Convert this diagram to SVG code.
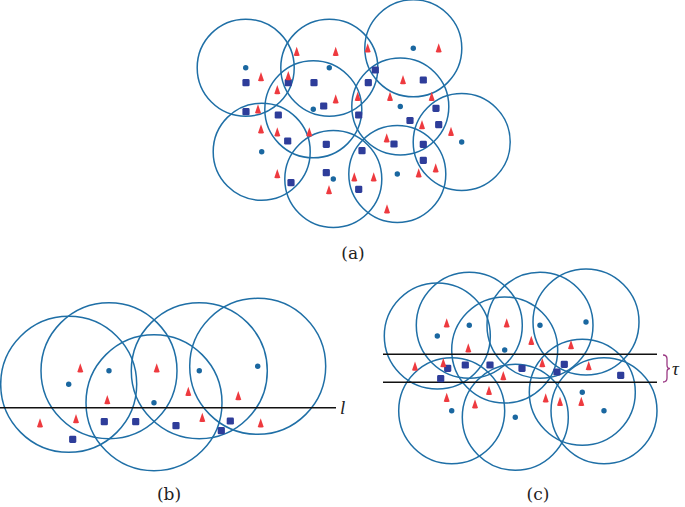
<svg xmlns="http://www.w3.org/2000/svg" xmlns:xlink="http://www.w3.org/1999/xlink" width="685" height="507" viewBox="0 0 685 507">
<style>
.c{fill:none;stroke:#1f6fa6;stroke-width:1.5}
.ln{stroke:#111;stroke-width:1.6}
.lab{font-family:"DejaVu Serif","Liberation Serif",serif;font-size:17px;fill:#222;text-anchor:middle}
.it{font-family:"Liberation Serif","DejaVu Serif",serif;font-style:italic;font-size:19px;fill:#222}
</style>
<defs>
<path id="t" d="M0,-5 L3,3.8 Q0,4.8 -3,3.8 Z" fill="#ee3a3f"/>
<rect id="s" x="-3.6" y="-3.6" width="7.2" height="7.2" rx="1.3" fill="#2e3d9a"/>
<circle id="d" r="2.7" fill="#1a67a0"/>
</defs>
<rect width="685" height="507" fill="#fff"/>

<g id="panel-a">
<g class="circles">
<circle class="c" cx="245.7" cy="67.7" r="48.5"/>
<circle class="c" cx="329.3" cy="67.7" r="48.5"/>
<circle class="c" cx="413.3" cy="48.3" r="48.5"/>
<circle class="c" cx="313.3" cy="109.3" r="48.5"/>
<circle class="c" cx="400.3" cy="106.5" r="48.5"/>
<circle class="c" cx="461.7" cy="142" r="48.5"/>
<circle class="c" cx="261.7" cy="151.7" r="48.5"/>
<circle class="c" cx="333.3" cy="179" r="48.5"/>
<circle class="c" cx="397.3" cy="174" r="48.5"/>
</g>
<g class="dots">
<use xlink:href="#d" x="245.7" y="67.7"/>
<use xlink:href="#d" x="329.3" y="67.7"/>
<use xlink:href="#d" x="413.3" y="48.3"/>
<use xlink:href="#d" x="313.3" y="109.3"/>
<use xlink:href="#d" x="400.3" y="106.5"/>
<use xlink:href="#d" x="461.7" y="142"/>
<use xlink:href="#d" x="261.7" y="151.7"/>
<use xlink:href="#d" x="333.3" y="179"/>
<use xlink:href="#d" x="397.3" y="174"/>
</g>
<g class="squares">
<use xlink:href="#s" x="246" y="82.7"/>
<use xlink:href="#s" x="288.3" y="82.7"/>
<use xlink:href="#s" x="314" y="82.7"/>
<use xlink:href="#s" x="323.7" y="106"/>
<use xlink:href="#s" x="246" y="111.7"/>
<use xlink:href="#s" x="278.3" y="115"/>
<use xlink:href="#s" x="375.3" y="70"/>
<use xlink:href="#s" x="368.3" y="82.7"/>
<use xlink:href="#s" x="423.3" y="80"/>
<use xlink:href="#s" x="436" y="108.3"/>
<use xlink:href="#s" x="358.7" y="115"/>
<use xlink:href="#s" x="410" y="120.5"/>
<use xlink:href="#s" x="287.7" y="141"/>
<use xlink:href="#s" x="326.3" y="144.3"/>
<use xlink:href="#s" x="291" y="182.7"/>
<use xlink:href="#s" x="326.3" y="172.7"/>
<use xlink:href="#s" x="438.7" y="124.7"/>
<use xlink:href="#s" x="394" y="144"/>
<use xlink:href="#s" x="423.3" y="144.3"/>
<use xlink:href="#s" x="362" y="150.7"/>
<use xlink:href="#s" x="423.3" y="160.3"/>
<use xlink:href="#s" x="358.7" y="189.3"/>
</g>
<g class="triangles">
<use xlink:href="#t" x="261" y="77"/>
<use xlink:href="#t" x="296.7" y="51.7"/>
<use xlink:href="#t" x="335.7" y="51.7"/>
<use xlink:href="#t" x="288.3" y="76"/>
<use xlink:href="#t" x="277.3" y="90"/>
<use xlink:href="#t" x="335.7" y="99.3"/>
<use xlink:href="#t" x="258" y="109.3"/>
<use xlink:href="#t" x="367.7" y="48.3"/>
<use xlink:href="#t" x="438.7" y="48.3"/>
<use xlink:href="#t" x="403" y="80"/>
<use xlink:href="#t" x="357.7" y="96.7"/>
<use xlink:href="#t" x="390" y="96.7"/>
<use xlink:href="#t" x="431.7" y="96.7"/>
<use xlink:href="#t" x="261" y="129.3"/>
<use xlink:href="#t" x="277.3" y="132.3"/>
<use xlink:href="#t" x="309.3" y="132.3"/>
<use xlink:href="#t" x="277.3" y="174"/>
<use xlink:href="#t" x="329" y="190"/>
<use xlink:href="#t" x="422" y="125"/>
<use xlink:href="#t" x="451" y="131.7"/>
<use xlink:href="#t" x="386.7" y="138.3"/>
<use xlink:href="#t" x="435.7" y="168.3"/>
<use xlink:href="#t" x="354.3" y="177.3"/>
<use xlink:href="#t" x="373.7" y="177.3"/>
<use xlink:href="#t" x="418.7" y="173.3"/>
<use xlink:href="#t" x="387" y="209.3"/>
</g>
<text class="lab" x="353" y="259">(a)</text>
</g>

<g id="panel-b">
<g class="circles">
<circle class="c" cx="68.7" cy="384.3" r="68"/>
<circle class="c" cx="109" cy="370.7" r="68"/>
<circle class="c" cx="154" cy="402.7" r="68"/>
<circle class="c" cx="199.3" cy="370.7" r="68"/>
<circle class="c" cx="257.7" cy="366.3" r="68"/>
</g>
<line class="ln" x1="0" y1="407.7" x2="336" y2="407.7"/>
<g class="dots">
<use xlink:href="#d" x="68.7" y="384.3"/>
<use xlink:href="#d" x="109" y="370.7"/>
<use xlink:href="#d" x="154" y="402.7"/>
<use xlink:href="#d" x="199.3" y="370.7"/>
<use xlink:href="#d" x="257.7" y="366.3"/>
</g>
<g class="squares">
<use xlink:href="#s" x="104.3" y="421.7"/>
<use xlink:href="#s" x="135.7" y="421.7"/>
<use xlink:href="#s" x="176" y="425.7"/>
<use xlink:href="#s" x="72.7" y="439.3"/>
<use xlink:href="#s" x="230.3" y="421"/>
<use xlink:href="#s" x="221.3" y="430.7"/>
</g>
<g class="triangles">
<use xlink:href="#t" x="80.3" y="368.3"/>
<use xlink:href="#t" x="107.3" y="400"/>
<use xlink:href="#t" x="156.7" y="368.3"/>
<use xlink:href="#t" x="40" y="423.3"/>
<use xlink:href="#t" x="76" y="419"/>
<use xlink:href="#t" x="188.3" y="391.7"/>
<use xlink:href="#t" x="238.3" y="396"/>
<use xlink:href="#t" x="202.3" y="417.7"/>
<use xlink:href="#t" x="260.7" y="423.3"/>
</g>
<text class="it" x="340" y="414">l</text>
<text class="lab" x="169" y="500">(b)</text>
</g>

<g id="panel-c">
<g class="circles">
<circle class="c" cx="437.3" cy="336" r="53"/>
<circle class="c" cx="469.3" cy="325.3" r="53"/>
<circle class="c" cx="504.7" cy="350" r="53"/>
<circle class="c" cx="540" cy="325.3" r="53"/>
<circle class="c" cx="586" cy="322" r="53"/>
<circle class="c" cx="451.7" cy="410.7" r="53"/>
<circle class="c" cx="515.3" cy="417.3" r="53"/>
<circle class="c" cx="582.3" cy="392.3" r="53"/>
<circle class="c" cx="604" cy="410.7" r="53"/>
</g>
<line class="ln" x1="383" y1="354.3" x2="657" y2="354.3"/>
<line class="ln" x1="383" y1="382.3" x2="657" y2="382.3"/>
<path d="M663,355 Q667,355 667,359 L667,365 Q667,368.5 670,368.5 Q667,368.5 667,372 L667,378 Q667,382 663,382" fill="none" stroke="#9b3a84" stroke-width="1.3"/>
<text class="it" x="672" y="375">τ</text>
<g class="dots">
<use xlink:href="#d" x="437.3" y="336"/>
<use xlink:href="#d" x="469.3" y="325.3"/>
<use xlink:href="#d" x="504.7" y="350"/>
<use xlink:href="#d" x="540" y="325.3"/>
<use xlink:href="#d" x="586" y="322"/>
<use xlink:href="#d" x="451.7" y="410.7"/>
<use xlink:href="#d" x="515.3" y="417.3"/>
<use xlink:href="#d" x="582.3" y="392.3"/>
<use xlink:href="#d" x="604" y="410.7"/>
</g>
<g class="squares">
<use xlink:href="#s" x="447.7" y="368.3"/>
<use xlink:href="#s" x="465.3" y="365"/>
<use xlink:href="#s" x="490" y="365"/>
<use xlink:href="#s" x="522" y="368.3"/>
<use xlink:href="#s" x="440.7" y="378.7"/>
<use xlink:href="#s" x="564.3" y="364.3"/>
<use xlink:href="#s" x="557" y="372"/>
<use xlink:href="#s" x="620.7" y="375.3"/>
</g>
<g class="triangles">
<use xlink:href="#t" x="446.7" y="323.3"/>
<use xlink:href="#t" x="506.7" y="323.3"/>
<use xlink:href="#t" x="468.3" y="348.3"/>
<use xlink:href="#t" x="531.3" y="340.8"/>
<use xlink:href="#t" x="571" y="345"/>
<use xlink:href="#t" x="415" y="366.5"/>
<use xlink:href="#t" x="443.3" y="363"/>
<use xlink:href="#t" x="503.3" y="376"/>
<use xlink:href="#t" x="542.3" y="363"/>
<use xlink:href="#t" x="588.7" y="366"/>
<use xlink:href="#t" x="489" y="390.7"/>
<use xlink:href="#t" x="446.7" y="397.7"/>
<use xlink:href="#t" x="475" y="404.3"/>
<use xlink:href="#t" x="545.7" y="398.3"/>
<use xlink:href="#t" x="560" y="401.7"/>
<use xlink:href="#t" x="581.3" y="401.7"/>
</g>
<text class="lab" x="538" y="500">(c)</text>
</g>
</svg>
